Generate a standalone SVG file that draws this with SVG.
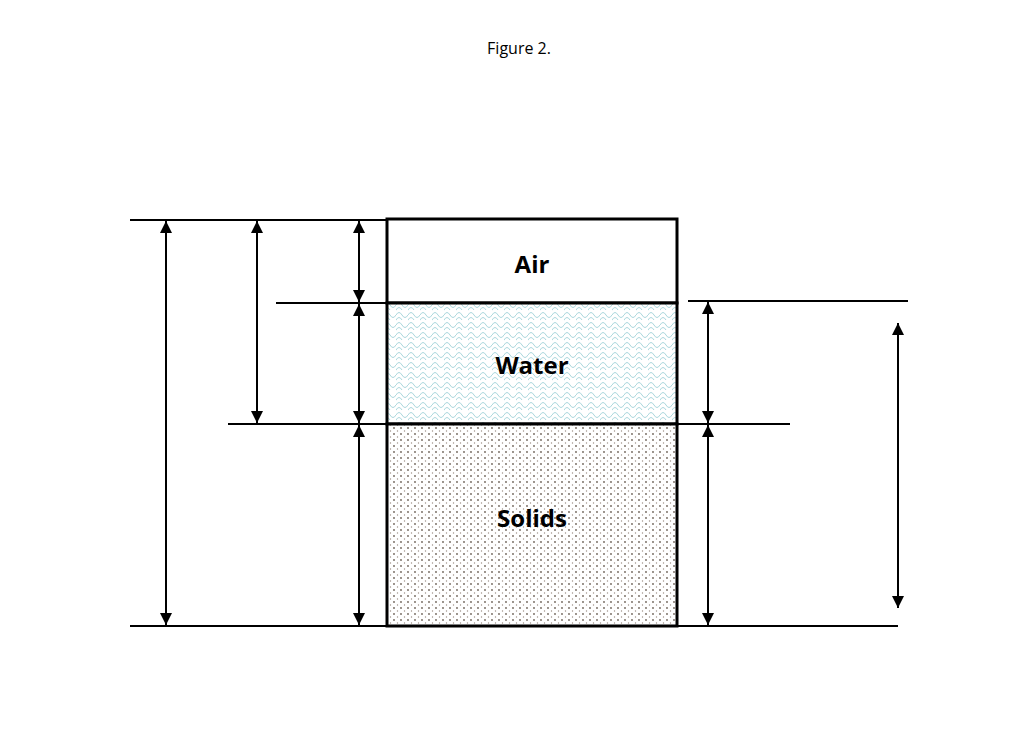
<svg xmlns="http://www.w3.org/2000/svg" width="1024" height="750" viewBox="0 0 1024 750">
<style>
.ln{stroke:#000;stroke-width:2;fill:none}
.dim{stroke:#000;stroke-width:2;fill:none;marker-start:url(#ah);marker-end:url(#ah)}
.box{stroke:#000;stroke-width:3}
.lbl{font-family:"Open Sans","Liberation Sans",sans-serif;font-weight:bold;font-size:24px;text-anchor:middle;fill:#000}
.ttl{font-family:"Open Sans","Liberation Sans",sans-serif;font-size:16px;text-anchor:middle;fill:#000}
</style>
<defs>
<marker id="ah" viewBox="0 0 10 12" refX="12" refY="6" markerWidth="6" markerHeight="6" orient="auto-start-reverse" markerUnits="strokeWidth">
<path d="M0,0 L12,6 L0,12 Z" fill="#000"/>
</marker>
<pattern id="scales" width="12" height="10" patternUnits="userSpaceOnUse">
<rect width="12" height="10" fill="#fff"/>
<path d="M0,5 Q3,0 6,5 Q9,10 12,5 M-6,0 Q-3,5 0,0 M6,0 Q9,-5 12,0 M0,10 Q3,5 6,10" fill="none" stroke="#a9d6dc" stroke-width="1"/>
</pattern>
<pattern id="dots" width="7" height="6" patternUnits="userSpaceOnUse">
<rect width="7" height="6" fill="#fff"/>
<circle cx="2" cy="2" r="0.9" fill="#6e6258"/>
<circle cx="5.5" cy="5" r="0.7" fill="#9c9086"/>
</pattern>
</defs>
<text class="ttl" x="519" y="54">Figure 2.</text>
<g id="air"><rect class="box" x="387" y="219" width="290" height="84" fill="#fff"/><text class="lbl" x="532" y="273">Air</text></g>
<g id="water"><rect class="box" x="387" y="303" width="290" height="121" fill="url(#scales)"/><text class="lbl" x="532" y="374">Water</text></g>
<g id="solids"><rect class="box" x="387" y="424" width="290" height="202" fill="url(#dots)"/><text class="lbl" x="532" y="527">Solids</text></g>
<g id="connectors">
<line class="ln" x1="130" y1="220" x2="387" y2="220"/>
<line class="ln" x1="276" y1="303" x2="387" y2="303"/>
<line class="ln" x1="228" y1="424" x2="790" y2="424"/>
<line class="ln" x1="130" y1="626" x2="898" y2="626"/>
<line class="ln" x1="688" y1="301" x2="908" y2="301"/>
<line class="dim" x1="166" y1="221" x2="166" y2="625"/>
<line class="dim" x1="257" y1="221" x2="257" y2="423"/>
<line class="dim" x1="359" y1="221" x2="359" y2="302"/>
<line class="dim" x1="359" y1="304" x2="359" y2="423"/>
<line class="dim" x1="359" y1="425" x2="359" y2="625"/>
<line class="dim" x1="708" y1="302" x2="708" y2="423"/>
<line class="dim" x1="708" y1="425" x2="708" y2="625"/>
<line class="dim" x1="898" y1="323" x2="898" y2="608"/>
</g>
</svg>
